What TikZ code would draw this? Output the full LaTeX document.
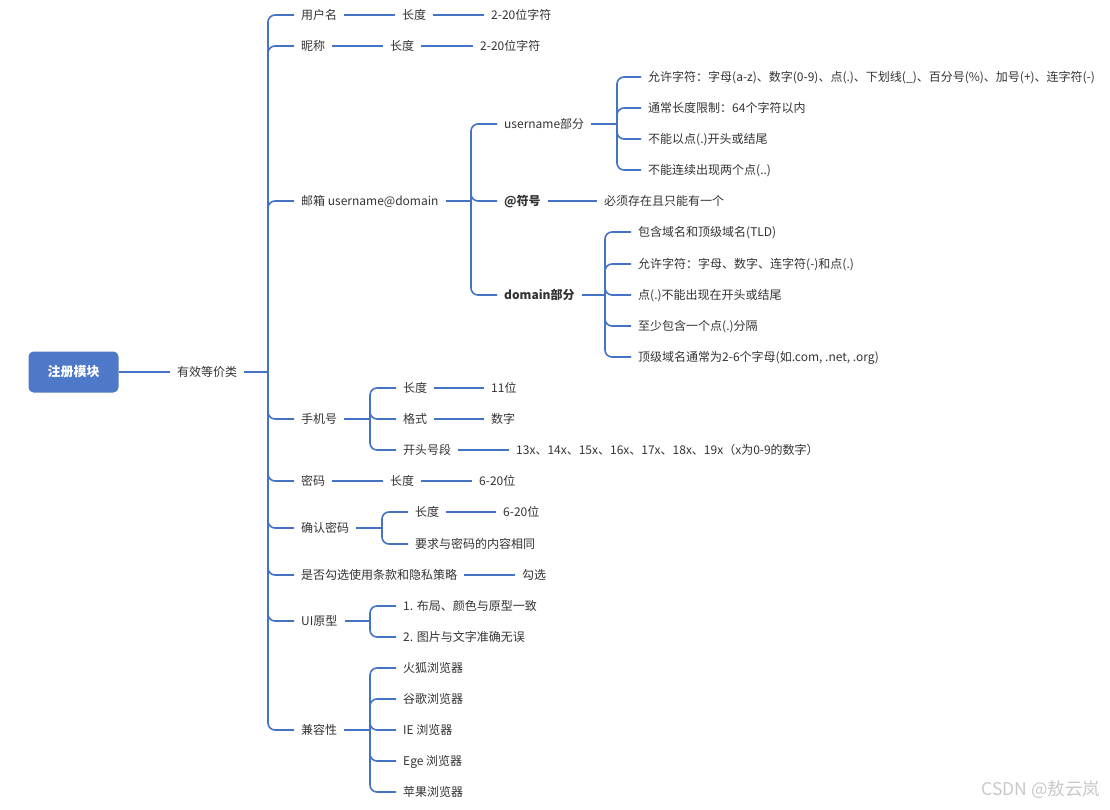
\documentclass[tikz,border=0pt]{standalone}
\usepackage{fontspec}
\setmainfont{Noto Sans CJK SC}
\usepackage{xcolor}
\definecolor{linkblue}{HTML}{4472C4}
\definecolor{rootblue}{HTML}{4E78C8}
\definecolor{textgray}{HTML}{333333}
\definecolor{markgray}{HTML}{C8C8C8}
\usepackage{tikz}
\usetikzlibrary{positioning}

\tikzset{
  txt/.style={anchor=west,inner xsep=7pt,inner ysep=2pt,text height=8.8pt,text depth=0pt,
    text=textgray,font=\fontsize{12}{14}\selectfont},
  boldtxt/.style={txt,font=\fontsize{12}{14}\selectfont\bfseries},
  rootbox/.style={fill=rootblue,rounded corners=5pt,minimum width=90pt,minimum height=41pt,
    text=white,font=\fontsize{13}{15}\selectfont\bfseries},
  link/.style={draw=linkblue,line width=1.6pt,rounded corners=7pt},
}

\begin{document}
\begin{tikzpicture}[x=1pt,y=-1pt]
  \useasboundingbox (0,0) rectangle (1110,810);
  % root
  \node[rootbox] (root) at (73.5,372) {注册模块};
  \node[txt] (eq) at (170,372) {有效等价类};
  % first level
  \node[txt] (uname)  at (294,15)  {用户名};
  \node[txt] (nick)   at (294,46)  {昵称};
  \node[txt] (mail)   at (294,201) {邮箱 username@domain};
  \node[txt] (phone)  at (294,419) {手机号};
  \node[txt] (pwd)    at (294,481) {密码};
  \node[txt] (cpwd)   at (294,528) {确认密码};
  \node[txt] (terms)  at (294,575) {是否勾选使用条款和隐私策略};
  \node[txt] (ui)     at (294,621) {UI原型};
  \node[txt] (compat) at (294,730) {兼容性};
  % user name, nick name
  \node[txt] (unameLen) at (395,15) {长度};
  \node[txt] (unameVal) at (484,15) {2-20位字符};
  \node[txt] (nickLen)  at (383,46) {长度};
  \node[txt] (nickVal)  at (473,46) {2-20位字符};
  % mail
  \node[txt]     (user)  at (497,124) {username部分};
  \node[boldtxt] (at)    at (497,201) {@符号};
  \node[boldtxt] (dom)   at (497,295) {domain部分};
  \node[txt]     (atVal) at (597,201) {必须存在且只能有一个};
  \node[txt] (user1) at (641,77)  {允许字符：字母(a-z)、数字(0-9)、点(.)、下划线(\_)、百分号(\%)、加号(+)、连字符(-)};
  \node[txt] (user2) at (641,108) {通常长度限制：64个字符以内};
  \node[txt] (user3) at (641,139) {不能以点(.)开头或结尾};
  \node[txt] (user4) at (641,170) {不能连续出现两个点(..)};
  \node[txt] (dom1) at (631,232) {包含域名和顶级域名(TLD)};
  \node[txt] (dom2) at (631,264) {允许字符：字母、数字、连字符(-)和点(.)};
  \node[txt] (dom3) at (631,295) {点(.)不能出现在开头或结尾};
  \node[txt] (dom4) at (631,326) {至少包含一个点(.)分隔};
  \node[txt] (dom5) at (631,357) {顶级域名通常为2-6个字母(如.com, .net, .org)};
  % phone
  \node[txt] (phLen)  at (396,388) {长度};
  \node[txt] (phLenV) at (484,388) {11位};
  \node[txt] (phFmt)  at (396,419) {格式};
  \node[txt] (phFmtV) at (484,419) {数字};
  \node[txt] (phPre)  at (396,450) {开头号段};
  \node[txt] (phPreV) at (509,450) {13x、14x、15x、16x、17x、18x、19x（x为0-9的数字）};
  % password
  \node[txt] (pwdLen) at (383,481) {长度};
  \node[txt] (pwdVal) at (472,481) {6-20位};
  \node[txt] (cpLen)  at (408,512) {长度};
  \node[txt] (cpVal)  at (496,512) {6-20位};
  \node[txt] (cpSame) at (408,544) {要求与密码的内容相同};
  \node[txt] (termsV) at (515,575) {勾选};
  % ui, browsers
  \node[txt] (ui1) at (396,606) {1. 布局、颜色与原型一致};
  \node[txt] (ui2) at (396,637) {2. 图片与文字准确无误};
  \node[txt] (br1) at (396,668) {火狐浏览器};
  \node[txt] (br2) at (396,699) {谷歌浏览器};
  \node[txt] (br3) at (396,730) {IE 浏览器};
  \node[txt] (br4) at (396,761) {Ege 浏览器};
  \node[txt] (br5) at (396,792) {苹果浏览器};
  \node[anchor=east,text=markgray,font=\fontsize{17.5}{19}\selectfont] (wmark) at (1104,790) {CSDN @敖云岚};

  % junctions
  \coordinate (jTrunk) at (268,372);
  \coordinate (jMail)  at (471,201);
  \coordinate (jUser)  at (617,124);
  \coordinate (jDom)   at (605,295);
  \coordinate (jPhone) at (370,419);
  \coordinate (jCp)    at (382,528);
  \coordinate (jUi)    at (370,621);
  \coordinate (jComp)  at (370,730);

  % links
  \draw[link] (root.east) -- (eq.west);
  \draw[link] (eq.east) -- (jTrunk);
  \foreach \c in {uname,nick,mail,phone,pwd,cpwd,terms,ui,compat}
    \draw[link] (jTrunk) |- (\c.west);
  \draw[link] (mail.east) -- (jMail);
  \foreach \c in {user,at,dom}
    \draw[link] (jMail) |- (\c.west);
  \draw[link] (user.east) -- (jUser);
  \foreach \c in {user1,user2,user3,user4}
    \draw[link] (jUser) |- (\c.west);
  \draw[link] (dom.east) -- (jDom);
  \foreach \c in {dom1,dom2,dom3,dom4,dom5}
    \draw[link] (jDom) |- (\c.west);
  \draw[link] (phone.east) -- (jPhone);
  \foreach \c in {phLen,phFmt,phPre}
    \draw[link] (jPhone) |- (\c.west);
  \draw[link] (cpwd.east) -- (jCp);
  \foreach \c in {cpLen,cpSame}
    \draw[link] (jCp) |- (\c.west);
  \draw[link] (ui.east) -- (jUi);
  \foreach \c in {ui1,ui2}
    \draw[link] (jUi) |- (\c.west);
  \draw[link] (compat.east) -- (jComp);
  \foreach \c in {br1,br2,br3,br4,br5}
    \draw[link] (jComp) |- (\c.west);
  \foreach \a/\b in {uname/unameLen,unameLen/unameVal,nick/nickLen,nickLen/nickVal,
      at/atVal,phLen/phLenV,phFmt/phFmtV,phPre/phPreV,pwd/pwdLen,pwdLen/pwdVal,
      cpLen/cpVal,terms/termsV}
    \draw[link] (\a.east) -- (\b.west);
\end{tikzpicture}
\end{document}
